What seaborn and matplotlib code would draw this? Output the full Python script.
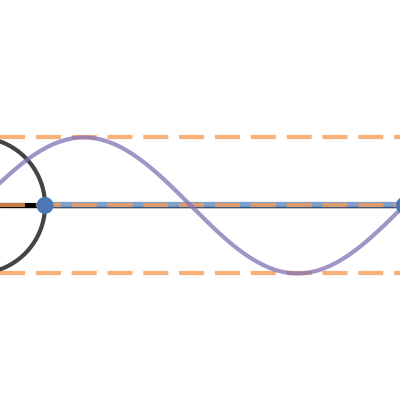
import matplotlib
matplotlib.use("Agg")
import matplotlib.pyplot as plt
import numpy as np
import pandas as pd
import seaborn as sns

# unit circle -> sine wave, frame at angle 0
RADIUS = 1.0
ANGLE = 0.0
PERIOD = 2 * np.pi
REF_LEVELS = [-1.0, 0.0, 1.0]
X_LIM = (0.338, 6.22)
Y_LIM = (-2.86, 3.02)

sns.set_theme(style="white")
pal = sns.color_palette("deep")
BLUE = "#4a78b5"
ORANGE = "#f49c56"
PURPLE = pal[4]

fig = plt.figure(figsize=(4, 4), dpi=100)
ax = fig.add_axes([0, 0, 1, 1])

t = np.linspace(0, PERIOD, 400)
circle = pd.DataFrame({"x": RADIUS * np.cos(t), "y": RADIUS * np.sin(t)})
wave = pd.DataFrame({"x": t, "y": RADIUS * np.sin(t + ANGLE)})

px, py = RADIUS * np.cos(ANGLE), RADIUS * np.sin(ANGLE)
wx, wy = PERIOD, py

# thin axis line
ax.axhline(-0.02, color="black", lw=1.0, zorder=1)

ax.plot(circle["x"], circle["y"], color="#444444", lw=3, zorder=2)
ax.plot([0, px], [0, py], color="black", lw=3, zorder=2)

# projection line from circle point to wave
ax.plot([px, wx], [py, wy], color=BLUE, lw=4.5, alpha=0.7, zorder=3)

for lvl in REF_LEVELS:
    ax.axhline(lvl, color=ORANGE, lw=3, alpha=0.8, dashes=(6, 2.6), zorder=4)

sns.lineplot(data=wave, x="x", y="y", color=PURPLE, lw=3, alpha=0.75,
             sort=False, ax=ax, zorder=5)

pts = pd.DataFrame({"x": [px, wx], "y": [py, wy]})
sns.scatterplot(data=pts, x="x", y="y", color=BLUE, s=150, edgecolor="none",
                ax=ax, zorder=6)

ax.set_xlim(*X_LIM)
ax.set_ylim(*Y_LIM)
ax.set_aspect("equal", adjustable="box")
ax.axis("off")

fig.savefig("out.png", dpi=100)
